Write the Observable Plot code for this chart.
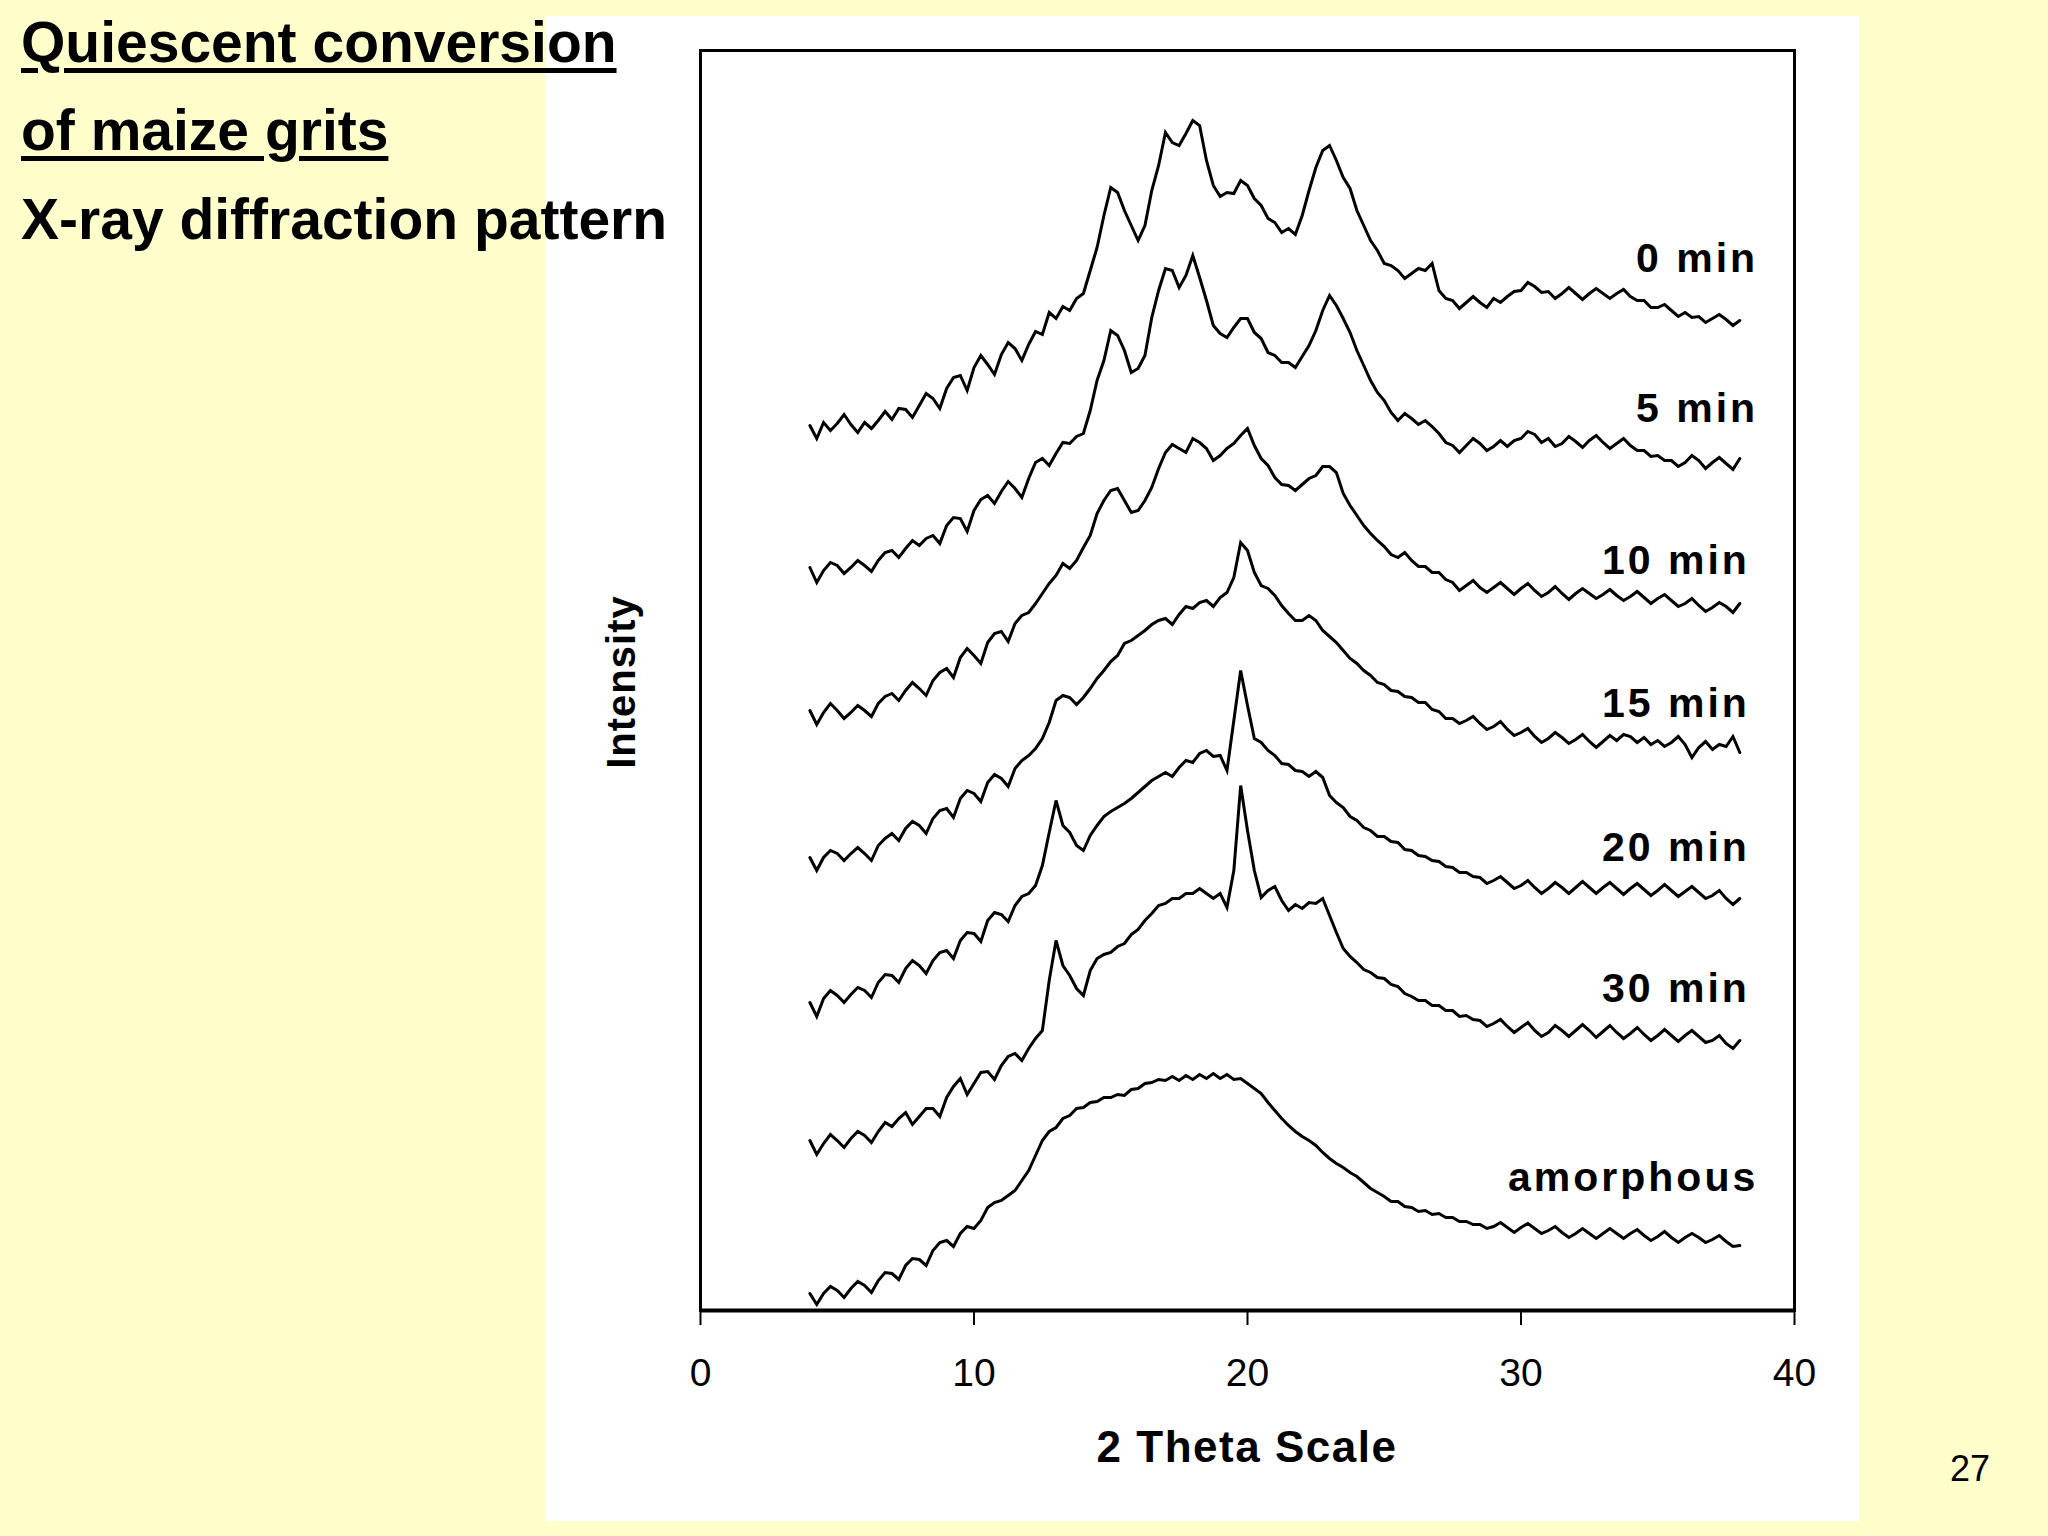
<!DOCTYPE html>
<html>
<head>
<meta charset="utf-8">
<script src="https://cdn.jsdelivr.net/npm/d3@7"></script>
<script src="https://cdn.jsdelivr.net/npm/@observablehq/plot@0.6"></script>
<style>
  html, body { margin: 0; padding: 0; }
  body { width: 2048px; height: 1536px; background: #FFFFCC; position: relative; overflow: hidden;
         font-family: "Liberation Sans", Arial, sans-serif; color: #000; }
  #panel { position: absolute; left: 546px; top: 16px; width: 1313px; height: 1505px; background: #fff; }
  #chart { position: absolute; left: 546px; top: 16px; }
  .t { position: absolute; white-space: nowrap; line-height: 1; z-index: 3; }
  .title { left: 21px; font-weight: bold; font-size: 57px; }
  .ul { text-decoration: underline; text-decoration-thickness: 5px; text-underline-offset: 6px; }
  .lab { font-weight: bold; font-size: 41px; letter-spacing: 3px; }
</style>
</head>
<body>
<div id="panel"></div>
<div id="chart"></div>
<script>
// 2θ sampling grid (degrees) and series names
const theta = d3.range(4, 38.001, 0.25);
const seriesNames = ["0 min", "5 min", "10 min", "15 min", "20 min", "30 min", "amorphous"];

// Intensity (arbitrary units, stacked traces)
const i0 = [885,872,888,880,887,896,886,878,888,882,890,899,891,902,901,893,905,917,912,902,922,933,935,920,943,955,946,936,956,968,962,950,966,979,976,998,992,1004,1000,1012,1017,1040,1063,1095,1123,1118,1100,1085,1070,1085,1120,1145,1178,1168,1165,1177,1190,1185,1150,1125,1114,1118,1117,1130,1125,1112,1105,1092,1088,1078,1082,1076,1095,1120,1143,1160,1165,1150,1133,1122,1100,1085,1070,1060,1047,1045,1040,1032,1037,1042,1040,1047,1020,1012,1010,1002,1008,1014,1008,1003,1012,1008,1014,1019,1020,1028,1024,1018,1019,1012,1017,1023,1017,1011,1017,1022,1017,1012,1017,1021,1014,1010,1010,1003,1003,1006,1000,994,998,993,994,988,992,996,991,985,990];
const i5 = [743,728,740,748,745,737,743,750,745,739,750,758,760,753,762,770,765,772,775,767,785,793,792,779,800,811,815,807,819,829,822,813,832,848,852,845,857,868,867,874,877,900,930,950,980,975,960,938,942,955,993,1020,1042,1040,1023,1035,1055,1033,1010,985,977,973,983,992,992,978,972,958,955,948,948,943,954,965,980,1000,1015,1005,992,978,960,945,930,918,910,898,890,897,892,886,890,884,877,868,865,858,865,872,867,860,864,870,864,870,872,879,876,868,872,864,867,874,869,863,870,875,868,862,867,872,865,860,860,854,855,850,850,844,848,855,850,842,848,853,847,841,852];
const i10 = [600,586,598,607,600,592,598,605,600,594,607,614,617,610,620,628,622,615,630,638,642,633,653,662,655,647,668,677,679,669,687,695,698,707,717,727,735,747,742,750,763,775,797,810,820,822,810,798,800,810,823,842,858,866,862,858,872,868,862,850,855,862,867,875,882,865,852,845,833,826,825,820,826,832,835,844,844,838,817,805,795,785,777,770,764,756,753,758,750,744,744,738,738,731,728,720,725,730,723,718,723,728,722,716,722,727,720,714,718,724,717,711,717,722,717,712,716,721,715,710,714,719,713,707,712,716,710,704,707,712,705,699,703,708,704,698,707];
const i15 = [453,440,453,460,457,450,457,463,457,450,465,472,477,470,482,489,485,477,492,500,502,493,512,520,517,509,528,536,532,524,542,550,555,562,572,588,610,615,613,606,613,622,632,640,649,655,667,670,675,680,686,690,692,686,696,704,702,708,710,704,713,718,733,768,760,738,725,722,715,705,697,690,690,695,690,680,674,668,660,652,647,640,635,628,626,620,619,614,613,608,608,601,599,592,592,587,590,594,587,581,584,589,581,575,578,582,574,568,572,578,573,567,571,576,569,563,569,575,570,576,574,568,573,566,570,564,568,574,566,553,563,569,561,566,564,574,558];
const i20 = [308,294,312,320,315,308,316,323,320,313,328,336,335,328,342,350,345,337,350,358,360,352,370,378,377,369,390,398,396,389,405,414,417,425,445,478,510,485,478,465,460,475,485,494,499,503,507,512,518,524,530,534,538,534,543,550,548,557,560,554,555,540,590,640,605,572,568,560,555,547,546,540,539,534,539,533,515,508,503,494,490,483,480,474,474,469,468,461,460,455,454,450,449,444,443,438,438,434,433,427,430,434,428,422,425,430,423,417,422,428,423,417,423,429,423,417,423,428,422,416,422,427,421,415,420,426,420,414,419,424,418,412,415,420,412,406,412];
const i30 = [170,156,167,176,170,163,172,179,175,168,179,188,184,192,198,186,194,202,202,194,213,224,232,216,227,238,239,231,245,254,257,250,262,272,280,330,370,345,335,322,315,340,352,356,358,364,367,376,381,390,397,405,407,412,412,417,417,422,417,412,417,403,440,525,480,440,413,420,424,410,400,406,402,408,407,412,395,378,362,354,348,341,338,333,332,326,324,317,314,310,310,305,305,300,300,294,295,291,290,284,287,291,284,278,283,288,280,274,278,285,280,274,280,286,280,273,279,285,278,272,277,283,276,270,275,281,275,269,275,280,274,268,270,275,267,262,270];
const iAm = [17,6,17,24,20,13,22,29,25,18,30,38,37,31,45,52,51,45,60,68,70,64,77,84,82,90,103,108,110,115,120,130,140,155,170,179,183,192,195,202,203,208,209,213,213,216,215,221,222,227,228,231,230,234,230,235,231,236,232,237,232,236,231,232,227,222,217,208,200,192,185,179,174,170,165,158,152,147,143,138,134,128,122,118,114,109,109,104,103,99,100,96,97,93,93,89,89,86,86,82,84,88,83,78,83,87,82,77,80,84,78,73,77,82,77,72,77,82,77,72,77,81,75,70,74,79,73,68,73,77,73,68,71,75,69,64,65];

const xTicks = [0, 10, 20, 30, 40];

const seriesValues = [i0, i5, i10, i15, i20, i30, iAm];
const rows = seriesNames.flatMap((name, k) =>
  theta.map((t, j) => ({series: name, theta: t, intensity: seriesValues[k][j]})));

const chart = Plot.plot({
  width: 1313,
  height: 1505,
  marginLeft: 154,
  marginRight: 65,
  marginTop: 34,
  marginBottom: 211,
  style: {fontSize: "39px", fontFamily: "'Liberation Sans', Arial, sans-serif", color: "black", background: "white", maxWidth: "none"},
  x: {domain: [0, 40]},
  y: {domain: [0, 1260], axis: null},
  marks: [
    Plot.line(rows, {x: "theta", y: "intensity", z: "series", stroke: "black", strokeWidth: 3, strokeLinejoin: "miter", strokeMiterlimit: 4}),
    Plot.frame({stroke: "black", strokeWidth: 3}),
    Plot.ruleY([0], {stroke: "black", strokeWidth: 4}),
    Plot.axisX({ticks: xTicks, tickSize: 15, tickPadding: 33, strokeWidth: 2, label: null, fill: "black"})
  ]
});
document.getElementById("chart").appendChild(chart);
</script>

<div class="t title ul" style="top:14px;">Quiescent conversion</div>
<div class="t title ul" style="top:102px;">of maize grits</div>
<div class="t title" style="top:191px;">X-ray diffraction pattern</div>

<div class="t lab" style="left:1636px; top:238px;">0 min</div>
<div class="t lab" style="left:1636px; top:388px;">5 min</div>
<div class="t lab" style="left:1602px; top:540px;">10 min</div>
<div class="t lab" style="left:1602px; top:683px;">15 min</div>
<div class="t lab" style="left:1602px; top:827px;">20 min</div>
<div class="t lab" style="left:1602px; top:968px;">30 min</div>
<div class="t lab" style="left:1508px; top:1157px;">amorphous</div>

<div class="t" style="left:1247px; top:1425px; transform:translateX(-50%); font-weight:bold; font-size:44px; letter-spacing:1.5px;">2 Theta Scale</div>
<div class="t" style="left:621px; top:682px; transform:translate(-50%,-50%) rotate(-90deg); font-weight:bold; font-size:40px; letter-spacing:1px;">Intensity</div>

<div class="t" style="left:1950px; top:1451px; font-size:36px;">27</div>
</body>
</html>
